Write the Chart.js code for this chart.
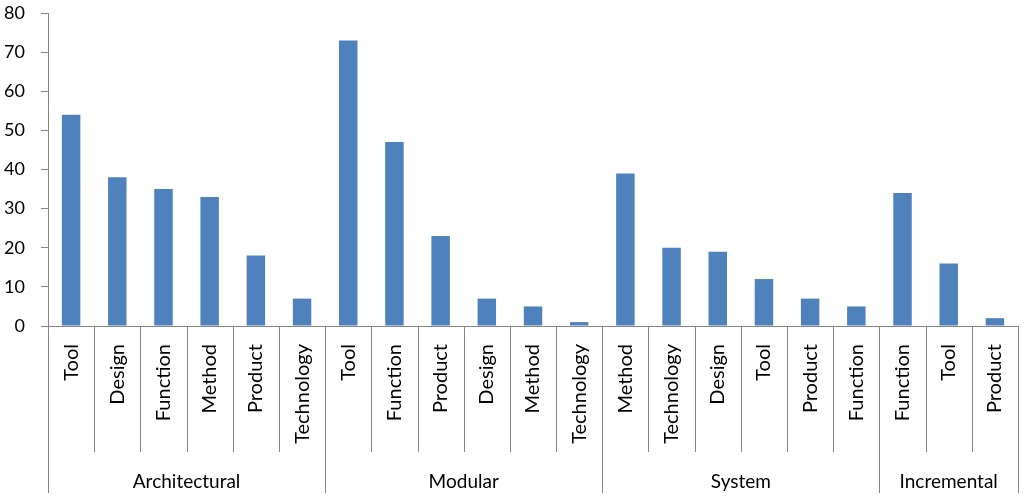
<!DOCTYPE html>
<html><head><meta charset="utf-8">
<script src="https://cdn.jsdelivr.net/npm/chart.js@4/dist/chart.umd.min.js"></script>
<style>html,body{margin:0;padding:0;background:#fff}</style>
</head><body>
<canvas id="c" width="1024" height="498"></canvas>
<script>
const categories = ['Tool','Design','Function','Method','Product','Technology',
  'Tool','Function','Product','Design','Method','Technology',
  'Method','Technology','Design','Tool','Product','Function',
  'Function','Tool','Product'];
const values = [54,38,35,33,18,7, 73,47,23,7,5,1, 39,20,19,12,7,5, 34,16,2];
const groups = ['Architectural','Modular','System','Incremental'];
const groupSizes = [6,6,6,3];
const yMin = 0, yMax = 80, yStep = 10;

const FONT = 'Lato';
const AXIS = '#868686';
const TEXT = '#000000';
const FS = 20;

const multiLevel = {
  id: 'multiLevel',
  afterDraw(chart) {
    const ctx = chart.ctx, xs = chart.scales.x, a = chart.chartArea;
    const n = categories.length;
    const edge = i => i === 0 ? a.left : (i === n ? a.right : (xs.getPixelForValue(i - 1) + xs.getPixelForValue(i)) / 2);
    const groupEdges = [0];
    groupSizes.forEach(s => groupEdges.push(groupEdges[groupEdges.length - 1] + s));
    ctx.save();
    ctx.strokeStyle = AXIS;
    ctx.lineWidth = 1;
    for (let i = 0; i <= n; i++) {
      const x = Math.round(edge(i)) + 0.5;
      const isGroup = groupEdges.includes(i);
      ctx.beginPath();
      ctx.moveTo(x, a.bottom);
      ctx.lineTo(x, isGroup ? 493 : 452);
      ctx.stroke();
    }
    ctx.fillStyle = TEXT;
    ctx.font = FS + 'px ' + FONT;
    for (let i = 0; i < n; i++) {
      const cx = xs.getPixelForValue(i);
      ctx.save();
      ctx.translate(cx, a.bottom + 18);
      ctx.rotate(-Math.PI / 2);
      ctx.textAlign = 'right';
      ctx.textBaseline = 'middle';
      ctx.fillText(categories[i], 0, 0);
      ctx.restore();
    }
    ctx.font = '19px ' + FONT;
    ctx.textAlign = 'center';
    ctx.textBaseline = 'middle';
    for (let g = 0; g < groups.length; g++) {
      const cx = (edge(groupEdges[g]) + edge(groupEdges[g + 1])) / 2;
      ctx.fillText(groups[g], cx, 482);
    }
    ctx.restore();
  }
};

Chart.defaults.font.family = FONT;
new Chart(document.getElementById('c'), {
  type: 'bar',
  data: {
    labels: categories,
    datasets: [{
      data: values,
      backgroundColor: '#4F81BD',
      borderWidth: 0,
      barPercentage: 0.4,
      categoryPercentage: 1.0
    }]
  },
  options: {
    responsive: false,
    animation: false,
    devicePixelRatio: 1,
    layout: { padding: { top: 13, right: 6, left: 0, bottom: 0 } },
    plugins: { legend: { display: false }, tooltip: { enabled: false } },
    scales: {
      x: {
        grid: { display: false },
        ticks: { display: false },
        border: { display: true, color: AXIS },
        afterFit(s) { s.height = 172; s.paddingLeft = 0; s.paddingRight = 0; }
      },
      y: {
        min: yMin, max: yMax,
        ticks: { stepSize: yStep, color: TEXT, font: { size: 18, family: FONT }, padding: 16 },
        grid: { drawOnChartArea: false, drawTicks: true, tickLength: 7, color: AXIS },
        border: { color: AXIS },
        afterFit(s) { s.width = 48; s.paddingTop = 0; s.paddingBottom = 0; }
      }
    }
  },
  plugins: [multiLevel]
});
</script>
</body></html>
